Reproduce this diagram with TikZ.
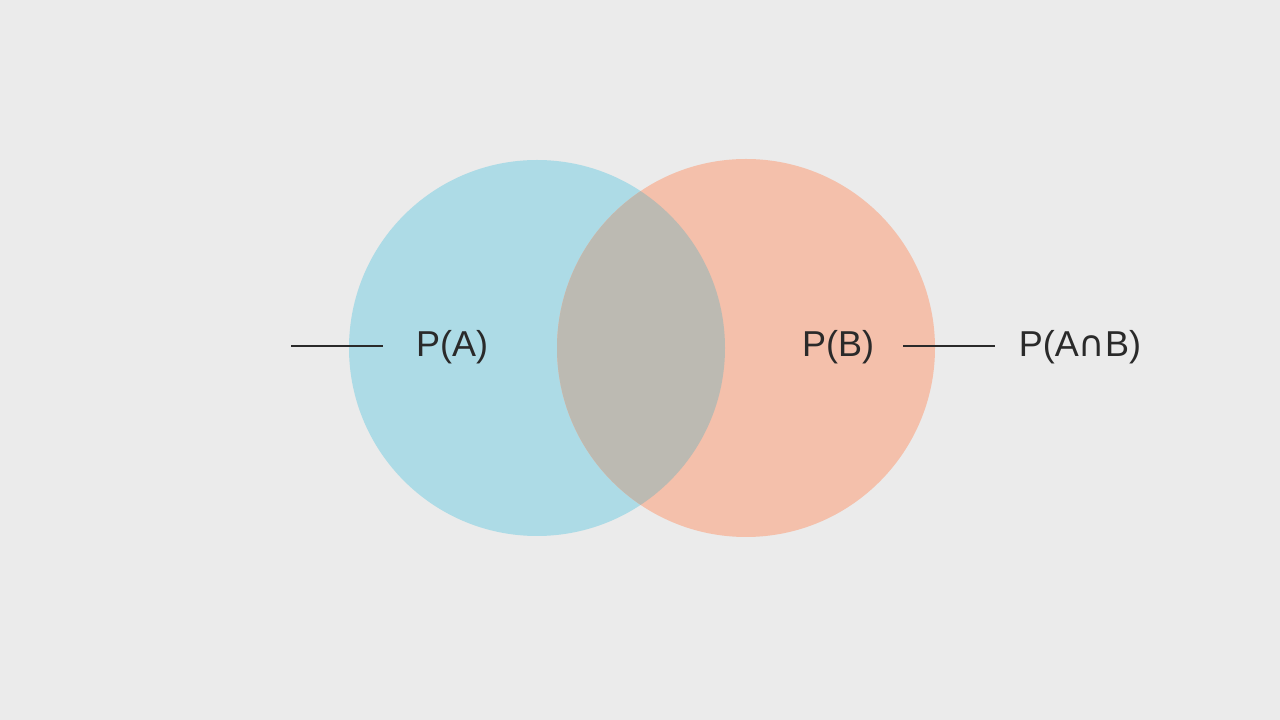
\documentclass[tikz,border=0pt]{standalone}
\usepackage{fontspec}
\setmainfont{Liberation Sans}
\newfontfamily\symfont{DejaVu Sans}
\definecolor{bg}{HTML}{EBEBEB}
\definecolor{cA}{HTML}{ADDBE6}
\definecolor{cB}{HTML}{F4C0AB}
\definecolor{cAB}{HTML}{BCBAB2}
\definecolor{ink}{HTML}{2A2A2A}
\begin{document}
\begin{tikzpicture}[x=1pt,y=1pt,
  lbl/.style={font=\fontsize{36}{40}\selectfont, text=ink, inner sep=0pt},
  lead/.style={draw=ink, line width=1.6pt}]
\fill[bg] (0,0) rectangle (1280,720);
\useasboundingbox (0,0) rectangle (1280,720);
\fill[cA] (537,372) circle (188);
\fill[cB] (746,372) circle (189);
\begin{scope}
  \clip (537,372) circle (188);
  \fill[cAB] (746,372) circle (189);
\end{scope}
\coordinate (l1) at (291,374);
\coordinate (l2) at (383,374);
\node[lbl] (pa) at (452,373) {P(A)};
\node[lbl] (pb) at (838,373) {P(B)};
\coordinate (r1) at (903,374);
\coordinate (r2) at (995,374);
\node[lbl] (pab) at (1080,373) {P(A{\symfont ∩}B)};
\draw[lead] (l1) -- (l2);
\draw[lead] (r1) -- (r2);
\end{tikzpicture}
\end{document}
